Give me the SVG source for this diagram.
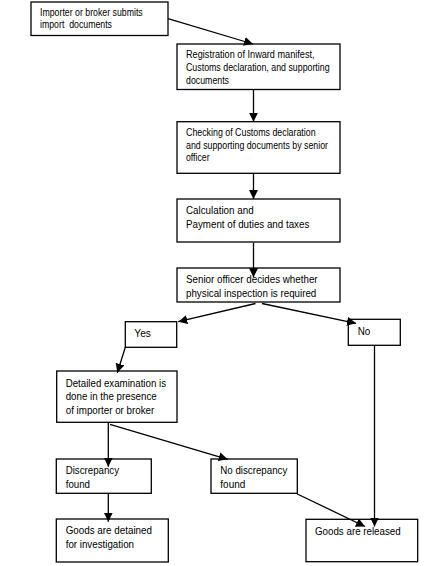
<svg xmlns="http://www.w3.org/2000/svg" width="434" height="566" viewBox="0 0 434 566">
<defs>
<style>
.box{fill:#fff;stroke:#000;stroke-width:1.3}
.t{font-family:"Liberation Sans",Arial,sans-serif;font-size:10.2px;fill:#000}
.c{fill:none;stroke:#000;stroke-width:1.3}
</style>
<marker id="ah" markerWidth="9" markerHeight="9" refX="9" refY="4.5" orient="auto" markerUnits="userSpaceOnUse">
<path d="M0,0 L9,4.5 L0,9 z" fill="#000"/>
</marker>
</defs>
<rect width="434" height="566" fill="#fff"/>
<g id="n1"><rect class="box" x="31" y="2" width="137" height="33.5"/>
<text class="t" x="40" y="16" textLength="102.7" lengthAdjust="spacingAndGlyphs">Importer or broker submits</text><text class="t" x="40" y="28" xml:space="preserve" textLength="72" lengthAdjust="spacingAndGlyphs">import  documents</text></g>
<g id="n2"><rect class="box" x="177" y="44" width="163" height="45.5"/>
<text class="t" x="186" y="58" textLength="128.6" lengthAdjust="spacingAndGlyphs">Registration of Inward manifest,</text><text class="t" x="186" y="71" textLength="143.6" lengthAdjust="spacingAndGlyphs">Customs declaration, and supporting</text><text class="t" x="186" y="83.5" textLength="43" lengthAdjust="spacingAndGlyphs">documents</text></g>
<g id="n3"><rect class="box" x="177" y="121.7" width="163" height="51.6"/>
<text class="t" x="186" y="136" textLength="129.6" lengthAdjust="spacingAndGlyphs">Checking of Customs declaration</text><text class="t" x="186" y="148.7" textLength="142" lengthAdjust="spacingAndGlyphs">and supporting documents by senior</text><text class="t" x="186" y="160.7" textLength="23.6" lengthAdjust="spacingAndGlyphs">officer</text></g>
<g id="n4"><rect class="box" x="177" y="199" width="163" height="43"/>
<text class="t" x="186" y="214.3" textLength="67.6" lengthAdjust="spacingAndGlyphs">Calculation and</text><text class="t" x="186" y="228.3" textLength="123.3" lengthAdjust="spacingAndGlyphs">Payment of duties and taxes</text></g>
<g id="n5"><rect class="box" x="177" y="268" width="163" height="34"/>
<text class="t" x="186" y="282.7" textLength="131.6" lengthAdjust="spacingAndGlyphs">Senior officer decides whether</text><text class="t" x="186" y="296.7" textLength="130.3" lengthAdjust="spacingAndGlyphs">physical inspection is required</text></g>
<g id="yes"><rect class="box" x="125.3" y="321.7" width="51.4" height="25.6"/>
<text class="t" x="134.3" y="336.7" textLength="16.7" lengthAdjust="spacingAndGlyphs">Yes</text></g>
<g id="no"><rect class="box" x="348.3" y="319.3" width="52" height="26"/>
<text class="t" x="357.7" y="335" textLength="12.6" lengthAdjust="spacingAndGlyphs">No</text></g>
<g id="n6"><rect class="box" x="56.7" y="371" width="120.3" height="51.3"/>
<text class="t" x="65.7" y="386.7" textLength="100.3" lengthAdjust="spacingAndGlyphs">Detailed examination is</text><text class="t" x="65.7" y="400" textLength="91" lengthAdjust="spacingAndGlyphs">done in the presence</text><text class="t" x="65.7" y="414" textLength="88.6" lengthAdjust="spacingAndGlyphs">of importer or broker</text></g>
<g id="n7"><rect class="box" x="56.3" y="459" width="95" height="34.3"/>
<text class="t" x="65.7" y="474" textLength="53.3" lengthAdjust="spacingAndGlyphs">Discrepancy</text><text class="t" x="65.7" y="487.7" textLength="24.3" lengthAdjust="spacingAndGlyphs">found</text></g>
<g id="n8"><rect class="box" x="211" y="459" width="86.3" height="34.3"/>
<text class="t" x="220.3" y="474" textLength="67" lengthAdjust="spacingAndGlyphs">No discrepancy</text><text class="t" x="220.3" y="487.7" textLength="25" lengthAdjust="spacingAndGlyphs">found</text></g>
<g id="n9"><rect class="box" x="56.3" y="519" width="112" height="43"/>
<text class="t" x="65.7" y="534.3" textLength="86.3" lengthAdjust="spacingAndGlyphs">Goods are detained</text><text class="t" x="65.7" y="548.3" textLength="68.3" lengthAdjust="spacingAndGlyphs">for investigation</text></g>
<g id="n10"><rect class="box" x="306" y="519.3" width="111.7" height="42.4"/>
<text class="t" x="315" y="534.7" textLength="85.7" lengthAdjust="spacingAndGlyphs">Goods are released</text></g>
<g id="connectors" class="c">
<line class="c" x1="168" y1="18.7" x2="253" y2="44" marker-end="url(#ah)"/>
<line class="c" x1="253.5" y1="90" x2="253.5" y2="121.7" marker-end="url(#ah)"/>
<line class="c" x1="253.5" y1="173.3" x2="253.5" y2="199" marker-end="url(#ah)"/>
<line class="c" x1="253.5" y1="242.5" x2="253.5" y2="277.3" marker-end="url(#ah)"/>
<line class="c" x1="255.5" y1="303.5" x2="178.3" y2="321.7" marker-end="url(#ah)"/>
<line class="c" x1="262" y1="303.5" x2="356" y2="323.3" marker-end="url(#ah)"/>
<line class="c" x1="125.3" y1="347.3" x2="117.3" y2="372.7" marker-end="url(#ah)"/>
<line class="c" x1="374.5" y1="345.3" x2="374.5" y2="526.5" marker-end="url(#ah)"/>
<line class="c" x1="108.3" y1="422.3" x2="108.3" y2="466.7" marker-end="url(#ah)"/>
<line class="c" x1="110" y1="424.3" x2="227.7" y2="459.3" marker-end="url(#ah)"/>
<line class="c" x1="108.3" y1="493.3" x2="108.3" y2="521.7" marker-end="url(#ah)"/>
<line class="c" x1="297.3" y1="494" x2="365" y2="526.5" marker-end="url(#ah)"/>
</g>
</svg>
